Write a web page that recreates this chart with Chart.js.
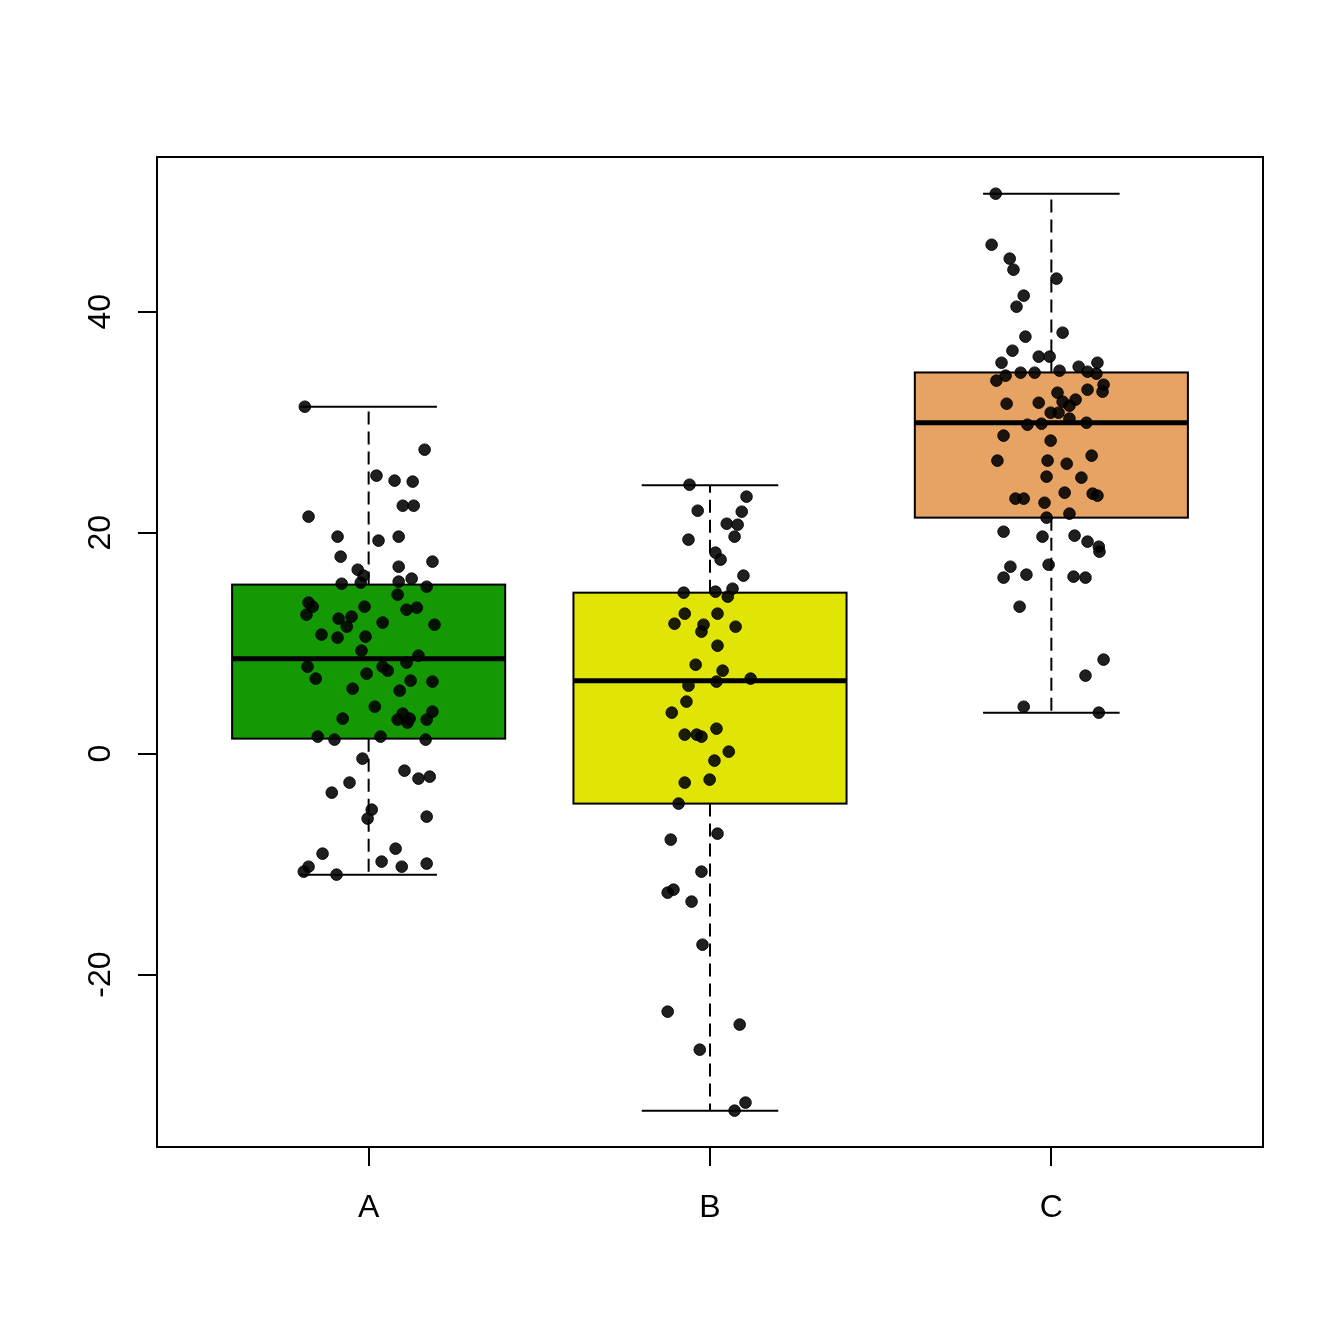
<!DOCTYPE html>
<html>
<head>
<meta charset="utf-8">
<script src="https://cdn.jsdelivr.net/npm/chart.js@4/dist/chart.umd.min.js"></script>
<style>
  body { margin: 0; background: #fff; }
  canvas { display: block; }
</style>
</head>
<body>
<canvas id="myChart" width="1344" height="1344"></canvas>
<script>
// Groups and box statistics
const categories = ['A', 'B', 'C'];
const boxColors = ['#149905', '#E1E506', '#E6A363'];
const whiskerLow = [-10.95, -32.31, 3.71];
const lowerQuartile = [1.36, -4.52, 21.36];
const medians = [8.6, 6.6, 29.95];
const upperQuartile = [15.3, 14.57, 34.5];
const whiskerHigh = [31.4, 24.3, 50.68];

const yTicks = [-20, 0, 20, 40];

// Jittered points (x position, value)
const groupAx = [0.813, 1.164, 1.023, 1.076, 1.129, 1.100, 1.132, 0.824, 0.909, 1.029, 1.088, 0.918, 1.187, 1.088, 0.968, 0.985, 1.126, 0.977, 1.088, 0.921, 1.170, 1.085, 0.824, 0.836, 0.818, 0.988, 1.141, 1.111, 0.912, 0.950, 0.936, 1.041, 1.193, 0.862, 0.909, 0.991, 0.979, 1.146, 1.111, 0.821, 1.041, 1.056, 0.845, 0.994, 1.123, 1.187, 0.953, 1.091, 1.018, 1.187, 1.100, 1.085, 1.120, 1.114, 1.170, 0.924, 0.851, 0.900, 1.035, 1.167, 0.982, 1.105, 1.146, 1.179, 0.944, 0.892, 1.009, 0.997, 1.170, 0.865, 1.079, 0.824, 0.810, 0.906, 1.038, 1.097, 1.170];
const groupAy = [31.40, 27.51, 25.16, 24.71, 24.62, 22.44, 22.44, 21.45, 19.64, 19.28, 19.64, 17.83, 17.38, 16.92, 16.65, 16.11, 15.84, 15.48, 15.57, 15.38, 15.11, 14.39, 13.67, 13.30, 12.58, 13.30, 13.21, 13.03, 12.22, 12.40, 11.49, 11.86, 11.67, 10.77, 10.50, 10.59, 9.32, 8.87, 8.24, 7.87, 7.87, 7.51, 6.79, 7.24, 6.61, 6.52, 5.88, 5.70, 4.25, 3.80, 3.62, 3.08, 3.17, 2.81, 3.08, 3.17, 1.54, 1.27, 1.54, 1.27, -0.45, -1.54, -2.26, -2.08, -2.62, -3.53, -5.07, -5.88, -5.70, -9.05, -8.60, -10.23, -10.68, -10.95, -9.77, -10.23, -9.95];

const groupBx = [1.940, 2.107, 1.964, 2.093, 2.049, 2.081, 2.072, 1.937, 2.016, 2.031, 2.098, 1.923, 2.016, 2.066, 2.052, 1.926, 2.022, 1.896, 1.981, 1.975, 2.075, 2.022, 1.958, 2.037, 2.119, 2.019, 1.937, 1.931, 1.888, 2.019, 1.926, 1.961, 1.975, 2.055, 2.013, 1.926, 1.999, 1.908, 2.022, 1.885, 1.975, 1.893, 1.876, 1.946, 1.978, 1.876, 2.087, 1.970, 2.104, 2.072];
const groupBy = [24.34, 23.26, 21.99, 21.90, 20.81, 20.72, 19.64, 19.37, 18.19, 17.56, 16.11, 14.57, 14.66, 14.93, 14.21, 12.67, 12.67, 11.76, 11.67, 11.04, 11.49, 9.77, 8.05, 7.51, 6.79, 6.52, 6.15, 4.71, 3.71, 2.26, 1.72, 1.72, 1.54, 0.18, -0.63, -2.62, -2.35, -4.52, -7.24, -7.78, -10.68, -12.31, -12.58, -13.39, -17.29, -23.35, -24.52, -26.79, -31.58, -32.31];

const groupCx = [2.837, 2.825, 2.878, 2.889, 3.015, 2.919, 2.898, 3.033, 2.924, 2.886, 2.963, 2.995, 2.854, 3.080, 3.135, 3.024, 3.106, 3.132, 2.910, 2.951, 2.866, 2.839, 3.153, 3.106, 3.150, 3.018, 2.869, 2.963, 3.033, 3.071, 3.053, 2.998, 3.021, 3.053, 3.103, 2.930, 2.971, 2.860, 2.998, 3.118, 2.842, 2.989, 3.045, 2.986, 3.088, 3.039, 3.121, 3.135, 2.895, 2.919, 2.980, 3.053, 2.986, 2.860, 2.974, 3.068, 3.106, 3.139, 3.141, 2.880, 2.992, 2.860, 2.927, 3.065, 3.100, 2.907, 3.153, 3.100, 2.919, 3.139];
const groupCy = [50.68, 46.06, 44.80, 43.80, 42.99, 41.45, 40.45, 38.10, 37.74, 36.47, 35.93, 35.93, 35.38, 35.02, 35.38, 34.66, 34.57, 34.39, 34.48, 34.48, 34.21, 33.76, 33.39, 32.94, 32.76, 32.67, 31.67, 31.76, 31.86, 32.04, 31.49, 30.86, 30.86, 30.32, 29.95, 29.77, 29.86, 28.78, 28.33, 26.97, 26.52, 26.52, 26.24, 25.07, 24.98, 23.62, 23.53, 23.35, 23.08, 23.08, 22.71, 21.72, 21.36, 20.09, 19.64, 19.73, 19.19, 18.73, 18.28, 16.92, 17.10, 15.93, 16.20, 16.02, 15.93, 13.30, 8.51, 7.06, 4.25, 3.71];

function toPoints(xs, ys) {
    return xs.map((x, i) => ({ x: x, y: ys[i] }));
}

const allPoints = [].concat(
    toPoints(groupAx, groupAy),
    toPoints(groupBx, groupBy),
    toPoints(groupCx, groupCy)
);

// Boxes, whiskers and caps drawn under the points
const boxPlugin = {
    id: 'boxes',
    beforeDatasetsDraw(chart) {
        const ctx = chart.ctx;
        const xs = chart.scales.x;
        const ys = chart.scales.y;
        ctx.save();
        categories.forEach((cat, i) => {
            const pos = i + 1;
            const cx = xs.getPixelForValue(pos);
            const left = xs.getPixelForValue(pos - 0.4);
            const right = xs.getPixelForValue(pos + 0.4);
            const capL = xs.getPixelForValue(pos - 0.2);
            const capR = xs.getPixelForValue(pos + 0.2);
            const yLow = ys.getPixelForValue(whiskerLow[i]);
            const yQ1 = ys.getPixelForValue(lowerQuartile[i]);
            const yMed = ys.getPixelForValue(medians[i]);
            const yQ3 = ys.getPixelForValue(upperQuartile[i]);
            const yHigh = ys.getPixelForValue(whiskerHigh[i]);

            ctx.strokeStyle = '#000';
            ctx.lineWidth = 2;

            // dashed whiskers
            ctx.setLineDash([13, 7]);
            ctx.beginPath();
            ctx.moveTo(cx, yQ3);
            ctx.lineTo(cx, yHigh);
            ctx.moveTo(cx, yQ1);
            ctx.lineTo(cx, yLow);
            ctx.stroke();
            ctx.setLineDash([]);

            // caps
            ctx.beginPath();
            ctx.moveTo(capL, yHigh);
            ctx.lineTo(capR, yHigh);
            ctx.moveTo(capL, yLow);
            ctx.lineTo(capR, yLow);
            ctx.stroke();

            // box
            ctx.fillStyle = boxColors[i];
            ctx.fillRect(left, yQ3, right - left, yQ1 - yQ3);
            ctx.strokeRect(left, yQ3, right - left, yQ1 - yQ3);

            // median
            ctx.lineWidth = 5;
            ctx.beginPath();
            ctx.moveTo(left, yMed);
            ctx.lineTo(right, yMed);
            ctx.stroke();
        });
        ctx.restore();
    },
    afterDraw(chart) {
        const a = chart.chartArea;
        const ctx = chart.ctx;
        ctx.save();
        ctx.strokeStyle = '#000';
        ctx.lineWidth = 2;
        ctx.strokeRect(a.left, a.top, a.right - a.left, a.bottom - a.top);
        ctx.restore();
    }
};

const tickFont = { family: "'Liberation Sans', Arial, sans-serif", size: 32 };

new Chart('myChart', {
    type: 'scatter',
    data: {
        datasets: [{
            data: allPoints,
            backgroundColor: 'rgba(0,0,0,0.88)',
            borderColor: 'rgba(0,0,0,0.9)',
            borderWidth: 1,
            pointRadius: 5.8,
            pointHoverRadius: 5.8
        }]
    },
    options: {
        responsive: false,
        devicePixelRatio: 1,
        animation: false,
        layout: { padding: { left: 0, top: 157, right: 81, bottom: 0 } },
        scales: {
            x: {
                type: 'linear',
                min: 0.38,
                max: 3.62,
                afterBuildTicks: scale => {
                    scale.ticks = categories.map((c, i) => ({ value: i + 1 }));
                },
                afterFit: scale => { scale.height = 197; },
                ticks: {
                    font: tickFont,
                    color: '#000',
                    padding: 23,
                    autoSkip: false,
                    maxRotation: 0,
                    callback: v => categories[v - 1]
                },
                grid: {
                    drawOnChartArea: false,
                    drawTicks: true,
                    tickLength: 19,
                    color: '#000',
                    lineWidth: 2
                },
                border: { display: false }
            },
            y: {
                min: -35.6,
                max: 54.0,
                afterBuildTicks: scale => {
                    scale.ticks = yTicks.map(v => ({ value: v }));
                },
                afterFit: scale => { scale.width = 157; },
                ticks: {
                    font: tickFont,
                    color: '#000',
                    padding: 14,
                    minRotation: 90,
                    maxRotation: 90,
                    crossAlign: 'center',
                    autoSkip: false
                },
                grid: {
                    drawOnChartArea: false,
                    drawTicks: true,
                    tickLength: 19,
                    color: '#000',
                    lineWidth: 2
                },
                border: { display: false }
            }
        },
        plugins: {
            legend: { display: false },
            tooltip: { enabled: false }
        }
    },
    plugins: [boxPlugin]
});
</script>
</body>
</html>
